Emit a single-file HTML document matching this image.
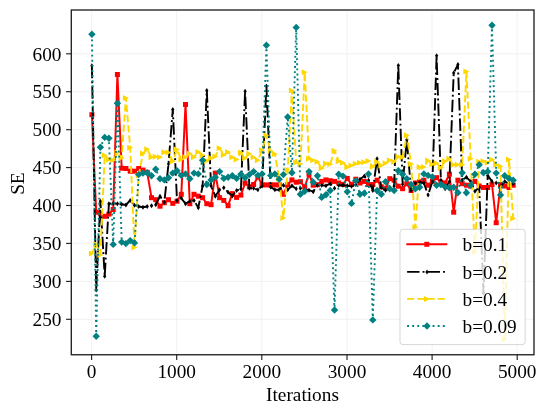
<!DOCTYPE html>
<html><head><meta charset="utf-8"><title>SE vs Iterations</title>
<style>html,body{margin:0;padding:0;background:#fff}svg{display:block}</style>
</head><body>
<svg width="550" height="409" viewBox="0 0 550 409" font-family='"Liberation Serif", "Times New Roman", serif' font-size="19.3" fill="#000">
<rect width="550" height="409" fill="#fff"/>
<g stroke="#f0f0f0" stroke-width="0.9">
<line x1="91.6" y1="10.0" x2="91.6" y2="354.75"/>
<line x1="176.7" y1="10.0" x2="176.7" y2="354.75"/>
<line x1="261.8" y1="10.0" x2="261.8" y2="354.75"/>
<line x1="347.0" y1="10.0" x2="347.0" y2="354.75"/>
<line x1="432.1" y1="10.0" x2="432.1" y2="354.75"/>
<line x1="517.2" y1="10.0" x2="517.2" y2="354.75"/>
<line x1="71.3" y1="319.3" x2="534.0" y2="319.3"/>
<line x1="71.3" y1="281.4" x2="534.0" y2="281.4"/>
<line x1="71.3" y1="243.4" x2="534.0" y2="243.4"/>
<line x1="71.3" y1="205.5" x2="534.0" y2="205.5"/>
<line x1="71.3" y1="167.6" x2="534.0" y2="167.6"/>
<line x1="71.3" y1="129.7" x2="534.0" y2="129.7"/>
<line x1="71.3" y1="91.7" x2="534.0" y2="91.7"/>
<line x1="71.3" y1="53.8" x2="534.0" y2="53.8"/>
</g>
<clipPath id="c"><rect x="71.3" y="10.0" width="462.7" height="344.75"/></clipPath>
<g clip-path="url(#c)">
<polyline points="91.9,114.7 96.2,212.2 100.4,213.3 104.7,216.3 108.9,214.1 113.2,209.5 117.4,74.5 121.7,168.2 125.9,168.5 130.2,171.2 134.5,171.2 138.7,168.5 143.0,170.1 147.2,172.3 151.5,197.7 155.7,199.7 160.0,206.2 164.3,202.7 168.5,199.7 172.8,203.4 177.0,201.2 181.3,194.3 185.5,104.5 189.8,203.7 194.0,194.3 198.3,196.2 202.6,197.7 206.8,203.7 211.1,204.7 215.3,173.1 219.6,197.7 223.8,200.4 228.1,205.7 232.3,193.6 236.6,197.4 240.9,195.1 245.1,183.0 249.4,186.8 253.6,184.5 257.9,176.9 262.1,184.9 266.4,184.9 270.7,184.9 274.9,184.9 279.2,184.9 283.4,194.3 287.7,184.5 291.9,179.9 296.2,182.2 300.4,181.7 304.7,186.8 309.0,174.2 313.2,185.2 317.5,184.7 321.7,181.4 326.0,179.9 330.2,180.7 334.5,181.4 338.7,183.0 343.0,184.5 347.3,178.4 351.5,184.5 355.8,179.2 360.0,183.0 364.3,181.4 368.5,184.5 372.8,184.5 377.1,180.2 381.3,186.8 385.6,188.3 389.8,178.7 394.1,180.2 398.3,186.2 402.6,188.7 406.8,183.7 411.1,190.5 415.4,183.0 419.6,181.7 423.9,180.2 428.1,185.2 432.4,181.4 436.6,177.7 440.9,182.2 445.1,183.0 449.4,174.2 453.7,212.2 457.9,180.2 462.2,183.7 466.4,185.2 470.7,186.2 474.9,181.4 479.2,186.0 483.5,187.5 487.7,187.5 492.0,184.5 496.2,222.7 500.5,184.5 504.7,186.0 509.0,187.5 513.2,185.2" fill="none" stroke="#ff0000" stroke-width="2.0" stroke-linejoin="round"/>
<rect x="89.4" y="112.2" width="5.0" height="5.0" fill="#ff0000"/>
<rect x="93.7" y="209.7" width="5.0" height="5.0" fill="#ff0000"/>
<rect x="97.9" y="210.8" width="5.0" height="5.0" fill="#ff0000"/>
<rect x="102.2" y="213.8" width="5.0" height="5.0" fill="#ff0000"/>
<rect x="106.4" y="211.6" width="5.0" height="5.0" fill="#ff0000"/>
<rect x="110.7" y="207.0" width="5.0" height="5.0" fill="#ff0000"/>
<rect x="114.9" y="72.0" width="5.0" height="5.0" fill="#ff0000"/>
<rect x="119.2" y="165.7" width="5.0" height="5.0" fill="#ff0000"/>
<rect x="123.4" y="166.0" width="5.0" height="5.0" fill="#ff0000"/>
<rect x="127.7" y="168.7" width="5.0" height="5.0" fill="#ff0000"/>
<rect x="132.0" y="168.7" width="5.0" height="5.0" fill="#ff0000"/>
<rect x="136.2" y="166.0" width="5.0" height="5.0" fill="#ff0000"/>
<rect x="140.5" y="167.6" width="5.0" height="5.0" fill="#ff0000"/>
<rect x="144.7" y="169.8" width="5.0" height="5.0" fill="#ff0000"/>
<rect x="149.0" y="195.2" width="5.0" height="5.0" fill="#ff0000"/>
<rect x="153.2" y="197.2" width="5.0" height="5.0" fill="#ff0000"/>
<rect x="157.5" y="203.7" width="5.0" height="5.0" fill="#ff0000"/>
<rect x="161.8" y="200.2" width="5.0" height="5.0" fill="#ff0000"/>
<rect x="166.0" y="197.2" width="5.0" height="5.0" fill="#ff0000"/>
<rect x="170.3" y="200.9" width="5.0" height="5.0" fill="#ff0000"/>
<rect x="174.5" y="198.7" width="5.0" height="5.0" fill="#ff0000"/>
<rect x="178.8" y="191.8" width="5.0" height="5.0" fill="#ff0000"/>
<rect x="183.0" y="102.0" width="5.0" height="5.0" fill="#ff0000"/>
<rect x="187.3" y="201.2" width="5.0" height="5.0" fill="#ff0000"/>
<rect x="191.5" y="191.8" width="5.0" height="5.0" fill="#ff0000"/>
<rect x="195.8" y="193.7" width="5.0" height="5.0" fill="#ff0000"/>
<rect x="200.1" y="195.2" width="5.0" height="5.0" fill="#ff0000"/>
<rect x="204.3" y="201.2" width="5.0" height="5.0" fill="#ff0000"/>
<rect x="208.6" y="202.2" width="5.0" height="5.0" fill="#ff0000"/>
<rect x="212.8" y="170.6" width="5.0" height="5.0" fill="#ff0000"/>
<rect x="217.1" y="195.2" width="5.0" height="5.0" fill="#ff0000"/>
<rect x="221.3" y="197.9" width="5.0" height="5.0" fill="#ff0000"/>
<rect x="225.6" y="203.2" width="5.0" height="5.0" fill="#ff0000"/>
<rect x="229.8" y="191.1" width="5.0" height="5.0" fill="#ff0000"/>
<rect x="234.1" y="194.9" width="5.0" height="5.0" fill="#ff0000"/>
<rect x="238.4" y="192.6" width="5.0" height="5.0" fill="#ff0000"/>
<rect x="242.6" y="180.5" width="5.0" height="5.0" fill="#ff0000"/>
<rect x="246.9" y="184.3" width="5.0" height="5.0" fill="#ff0000"/>
<rect x="251.1" y="182.0" width="5.0" height="5.0" fill="#ff0000"/>
<rect x="255.4" y="174.4" width="5.0" height="5.0" fill="#ff0000"/>
<rect x="259.6" y="182.4" width="5.0" height="5.0" fill="#ff0000"/>
<rect x="263.9" y="182.4" width="5.0" height="5.0" fill="#ff0000"/>
<rect x="268.2" y="182.4" width="5.0" height="5.0" fill="#ff0000"/>
<rect x="272.4" y="182.4" width="5.0" height="5.0" fill="#ff0000"/>
<rect x="276.7" y="182.4" width="5.0" height="5.0" fill="#ff0000"/>
<rect x="280.9" y="191.8" width="5.0" height="5.0" fill="#ff0000"/>
<rect x="285.2" y="182.0" width="5.0" height="5.0" fill="#ff0000"/>
<rect x="289.4" y="177.4" width="5.0" height="5.0" fill="#ff0000"/>
<rect x="293.7" y="179.7" width="5.0" height="5.0" fill="#ff0000"/>
<rect x="297.9" y="179.2" width="5.0" height="5.0" fill="#ff0000"/>
<rect x="302.2" y="184.3" width="5.0" height="5.0" fill="#ff0000"/>
<rect x="306.5" y="171.7" width="5.0" height="5.0" fill="#ff0000"/>
<rect x="310.7" y="182.7" width="5.0" height="5.0" fill="#ff0000"/>
<rect x="315.0" y="182.2" width="5.0" height="5.0" fill="#ff0000"/>
<rect x="319.2" y="178.9" width="5.0" height="5.0" fill="#ff0000"/>
<rect x="323.5" y="177.4" width="5.0" height="5.0" fill="#ff0000"/>
<rect x="327.7" y="178.2" width="5.0" height="5.0" fill="#ff0000"/>
<rect x="332.0" y="178.9" width="5.0" height="5.0" fill="#ff0000"/>
<rect x="336.2" y="180.5" width="5.0" height="5.0" fill="#ff0000"/>
<rect x="340.5" y="182.0" width="5.0" height="5.0" fill="#ff0000"/>
<rect x="344.8" y="175.9" width="5.0" height="5.0" fill="#ff0000"/>
<rect x="349.0" y="182.0" width="5.0" height="5.0" fill="#ff0000"/>
<rect x="353.3" y="176.7" width="5.0" height="5.0" fill="#ff0000"/>
<rect x="357.5" y="180.5" width="5.0" height="5.0" fill="#ff0000"/>
<rect x="361.8" y="178.9" width="5.0" height="5.0" fill="#ff0000"/>
<rect x="366.0" y="182.0" width="5.0" height="5.0" fill="#ff0000"/>
<rect x="370.3" y="182.0" width="5.0" height="5.0" fill="#ff0000"/>
<rect x="374.6" y="177.7" width="5.0" height="5.0" fill="#ff0000"/>
<rect x="378.8" y="184.3" width="5.0" height="5.0" fill="#ff0000"/>
<rect x="383.1" y="185.8" width="5.0" height="5.0" fill="#ff0000"/>
<rect x="387.3" y="176.2" width="5.0" height="5.0" fill="#ff0000"/>
<rect x="391.6" y="177.7" width="5.0" height="5.0" fill="#ff0000"/>
<rect x="395.8" y="183.7" width="5.0" height="5.0" fill="#ff0000"/>
<rect x="400.1" y="186.2" width="5.0" height="5.0" fill="#ff0000"/>
<rect x="404.3" y="181.2" width="5.0" height="5.0" fill="#ff0000"/>
<rect x="408.6" y="188.0" width="5.0" height="5.0" fill="#ff0000"/>
<rect x="412.9" y="180.5" width="5.0" height="5.0" fill="#ff0000"/>
<rect x="417.1" y="179.2" width="5.0" height="5.0" fill="#ff0000"/>
<rect x="421.4" y="177.7" width="5.0" height="5.0" fill="#ff0000"/>
<rect x="425.6" y="182.7" width="5.0" height="5.0" fill="#ff0000"/>
<rect x="429.9" y="178.9" width="5.0" height="5.0" fill="#ff0000"/>
<rect x="434.1" y="175.2" width="5.0" height="5.0" fill="#ff0000"/>
<rect x="438.4" y="179.7" width="5.0" height="5.0" fill="#ff0000"/>
<rect x="442.6" y="180.5" width="5.0" height="5.0" fill="#ff0000"/>
<rect x="446.9" y="171.7" width="5.0" height="5.0" fill="#ff0000"/>
<rect x="451.2" y="209.7" width="5.0" height="5.0" fill="#ff0000"/>
<rect x="455.4" y="177.7" width="5.0" height="5.0" fill="#ff0000"/>
<rect x="459.7" y="181.2" width="5.0" height="5.0" fill="#ff0000"/>
<rect x="463.9" y="182.7" width="5.0" height="5.0" fill="#ff0000"/>
<rect x="468.2" y="183.7" width="5.0" height="5.0" fill="#ff0000"/>
<rect x="472.4" y="178.9" width="5.0" height="5.0" fill="#ff0000"/>
<rect x="476.7" y="183.5" width="5.0" height="5.0" fill="#ff0000"/>
<rect x="481.0" y="185.0" width="5.0" height="5.0" fill="#ff0000"/>
<rect x="485.2" y="185.0" width="5.0" height="5.0" fill="#ff0000"/>
<rect x="489.5" y="182.0" width="5.0" height="5.0" fill="#ff0000"/>
<rect x="493.7" y="220.2" width="5.0" height="5.0" fill="#ff0000"/>
<rect x="498.0" y="182.0" width="5.0" height="5.0" fill="#ff0000"/>
<rect x="502.2" y="183.5" width="5.0" height="5.0" fill="#ff0000"/>
<rect x="506.5" y="185.0" width="5.0" height="5.0" fill="#ff0000"/>
<rect x="510.7" y="182.7" width="5.0" height="5.0" fill="#ff0000"/>
<polyline points="91.9,65.8 96.2,289.9 100.4,201.2 104.7,276.3 108.9,203.7 113.2,203.4 117.4,203.8 121.7,204.2 125.9,205.0 130.2,200.4 134.5,205.3 138.7,206.5 143.0,207.2 147.2,206.5 151.5,205.7 155.7,204.7 160.0,196.2 164.3,202.2 168.5,164.0 172.8,109.4 177.0,200.4 181.3,198.1 185.5,203.7 189.8,201.2 194.0,200.4 198.3,207.7 202.6,186.0 206.8,90.4 211.1,186.0 215.3,196.2 219.6,189.8 223.8,187.7 228.1,192.2 232.3,195.9 236.6,190.5 240.9,189.0 245.1,91.2 249.4,188.3 253.6,188.3 257.9,189.8 262.1,186.0 266.4,85.9 270.7,187.1 274.9,189.8 279.2,189.8 283.4,185.2 287.7,189.8 291.9,185.7 296.2,188.7 300.4,188.3 304.7,189.8 309.0,190.2 313.2,191.7 317.5,185.2 321.7,185.2 326.0,185.7 330.2,183.7 334.5,188.3 338.7,185.2 343.0,185.2 347.3,185.7 351.5,186.2 355.8,184.5 360.0,179.2 364.3,176.1 368.5,180.2 372.8,190.5 377.1,158.7 381.3,187.5 385.6,190.2 389.8,187.5 394.1,186.2 398.3,65.4 402.6,184.2 406.8,139.7 411.1,190.5 415.4,183.2 419.6,182.2 423.9,183.0 428.1,195.1 432.4,181.4 436.6,55.8 440.9,180.2 445.1,188.7 449.4,181.4 453.7,73.0 457.9,64.6 462.2,179.9 466.4,177.3 470.7,181.4 474.9,191.3 479.2,187.5 483.5,293.0 487.7,175.4 492.0,181.4 496.2,183.0 500.5,186.8 504.7,181.4 509.0,183.7 513.2,183.7" fill="none" stroke="#000000" stroke-width="1.9" stroke-linejoin="round" stroke-dasharray="12.4 3.1 1.9 3.1"/>
<path d="M91.9 63.3L93.5 65.8L91.9 68.3L90.3 65.8Z" fill="#000000"/>
<path d="M96.2 287.4L97.8 289.9L96.2 292.4L94.5 289.9Z" fill="#000000"/>
<path d="M100.4 198.7L102.0 201.2L100.4 203.7L98.8 201.2Z" fill="#000000"/>
<path d="M104.7 273.8L106.3 276.3L104.7 278.8L103.0 276.3Z" fill="#000000"/>
<path d="M108.9 201.2L110.5 203.7L108.9 206.2L107.3 203.7Z" fill="#000000"/>
<path d="M113.2 200.9L114.8 203.4L113.2 205.9L111.6 203.4Z" fill="#000000"/>
<path d="M117.4 201.3L119.1 203.8L117.4 206.3L115.8 203.8Z" fill="#000000"/>
<path d="M121.7 201.7L123.3 204.2L121.7 206.7L120.1 204.2Z" fill="#000000"/>
<path d="M125.9 202.5L127.6 205.0L125.9 207.5L124.3 205.0Z" fill="#000000"/>
<path d="M130.2 197.9L131.8 200.4L130.2 202.9L128.6 200.4Z" fill="#000000"/>
<path d="M134.5 202.8L136.1 205.3L134.5 207.8L132.8 205.3Z" fill="#000000"/>
<path d="M138.7 204.0L140.3 206.5L138.7 209.0L137.1 206.5Z" fill="#000000"/>
<path d="M143.0 204.7L144.6 207.2L143.0 209.7L141.3 207.2Z" fill="#000000"/>
<path d="M147.2 204.0L148.9 206.5L147.2 209.0L145.6 206.5Z" fill="#000000"/>
<path d="M151.5 203.2L153.1 205.7L151.5 208.2L149.9 205.7Z" fill="#000000"/>
<path d="M155.7 202.2L157.4 204.7L155.7 207.2L154.1 204.7Z" fill="#000000"/>
<path d="M160.0 193.7L161.6 196.2L160.0 198.7L158.4 196.2Z" fill="#000000"/>
<path d="M164.3 199.7L165.9 202.2L164.3 204.7L162.6 202.2Z" fill="#000000"/>
<path d="M168.5 161.5L170.1 164.0L168.5 166.5L166.9 164.0Z" fill="#000000"/>
<path d="M172.8 106.9L174.4 109.4L172.8 111.9L171.1 109.4Z" fill="#000000"/>
<path d="M177.0 197.9L178.6 200.4L177.0 202.9L175.4 200.4Z" fill="#000000"/>
<path d="M181.3 195.6L182.9 198.1L181.3 200.6L179.7 198.1Z" fill="#000000"/>
<path d="M185.5 201.2L187.2 203.7L185.5 206.2L183.9 203.7Z" fill="#000000"/>
<path d="M189.8 198.7L191.4 201.2L189.8 203.7L188.2 201.2Z" fill="#000000"/>
<path d="M194.0 197.9L195.7 200.4L194.0 202.9L192.4 200.4Z" fill="#000000"/>
<path d="M198.3 205.2L199.9 207.7L198.3 210.2L196.7 207.7Z" fill="#000000"/>
<path d="M202.6 183.5L204.2 186.0L202.6 188.5L200.9 186.0Z" fill="#000000"/>
<path d="M206.8 87.9L208.4 90.4L206.8 92.9L205.2 90.4Z" fill="#000000"/>
<path d="M211.1 183.5L212.7 186.0L211.1 188.5L209.4 186.0Z" fill="#000000"/>
<path d="M215.3 193.7L216.9 196.2L215.3 198.7L213.7 196.2Z" fill="#000000"/>
<path d="M219.6 187.3L221.2 189.8L219.6 192.3L218.0 189.8Z" fill="#000000"/>
<path d="M223.8 185.2L225.5 187.7L223.8 190.2L222.2 187.7Z" fill="#000000"/>
<path d="M228.1 189.7L229.7 192.2L228.1 194.7L226.5 192.2Z" fill="#000000"/>
<path d="M232.3 193.4L234.0 195.9L232.3 198.4L230.7 195.9Z" fill="#000000"/>
<path d="M236.6 188.0L238.2 190.5L236.6 193.0L235.0 190.5Z" fill="#000000"/>
<path d="M240.9 186.5L242.5 189.0L240.9 191.5L239.2 189.0Z" fill="#000000"/>
<path d="M245.1 88.7L246.7 91.2L245.1 93.7L243.5 91.2Z" fill="#000000"/>
<path d="M249.4 185.8L251.0 188.3L249.4 190.8L247.7 188.3Z" fill="#000000"/>
<path d="M253.6 185.8L255.3 188.3L253.6 190.8L252.0 188.3Z" fill="#000000"/>
<path d="M257.9 187.3L259.5 189.8L257.9 192.3L256.3 189.8Z" fill="#000000"/>
<path d="M262.1 183.5L263.8 186.0L262.1 188.5L260.5 186.0Z" fill="#000000"/>
<path d="M266.4 83.4L268.0 85.9L266.4 88.4L264.8 85.9Z" fill="#000000"/>
<path d="M270.7 184.6L272.3 187.1L270.7 189.6L269.0 187.1Z" fill="#000000"/>
<path d="M274.9 187.3L276.5 189.8L274.9 192.3L273.3 189.8Z" fill="#000000"/>
<path d="M279.2 187.3L280.8 189.8L279.2 192.3L277.5 189.8Z" fill="#000000"/>
<path d="M283.4 182.7L285.0 185.2L283.4 187.7L281.8 185.2Z" fill="#000000"/>
<path d="M287.7 187.3L289.3 189.8L287.7 192.3L286.1 189.8Z" fill="#000000"/>
<path d="M291.9 183.2L293.6 185.7L291.9 188.2L290.3 185.7Z" fill="#000000"/>
<path d="M296.2 186.2L297.8 188.7L296.2 191.2L294.6 188.7Z" fill="#000000"/>
<path d="M300.4 185.8L302.1 188.3L300.4 190.8L298.8 188.3Z" fill="#000000"/>
<path d="M304.7 187.3L306.3 189.8L304.7 192.3L303.1 189.8Z" fill="#000000"/>
<path d="M309.0 187.7L310.6 190.2L309.0 192.7L307.3 190.2Z" fill="#000000"/>
<path d="M313.2 189.2L314.8 191.7L313.2 194.2L311.6 191.7Z" fill="#000000"/>
<path d="M317.5 182.7L319.1 185.2L317.5 187.7L315.8 185.2Z" fill="#000000"/>
<path d="M321.7 182.7L323.3 185.2L321.7 187.7L320.1 185.2Z" fill="#000000"/>
<path d="M326.0 183.2L327.6 185.7L326.0 188.2L324.4 185.7Z" fill="#000000"/>
<path d="M330.2 181.2L331.9 183.7L330.2 186.2L328.6 183.7Z" fill="#000000"/>
<path d="M334.5 185.8L336.1 188.3L334.5 190.8L332.9 188.3Z" fill="#000000"/>
<path d="M338.7 182.7L340.4 185.2L338.7 187.7L337.1 185.2Z" fill="#000000"/>
<path d="M343.0 182.7L344.6 185.2L343.0 187.7L341.4 185.2Z" fill="#000000"/>
<path d="M347.3 183.2L348.9 185.7L347.3 188.2L345.6 185.7Z" fill="#000000"/>
<path d="M351.5 183.7L353.1 186.2L351.5 188.7L349.9 186.2Z" fill="#000000"/>
<path d="M355.8 182.0L357.4 184.5L355.8 187.0L354.1 184.5Z" fill="#000000"/>
<path d="M360.0 176.7L361.7 179.2L360.0 181.7L358.4 179.2Z" fill="#000000"/>
<path d="M364.3 173.6L365.9 176.1L364.3 178.6L362.7 176.1Z" fill="#000000"/>
<path d="M368.5 177.7L370.2 180.2L368.5 182.7L366.9 180.2Z" fill="#000000"/>
<path d="M372.8 188.0L374.4 190.5L372.8 193.0L371.2 190.5Z" fill="#000000"/>
<path d="M377.1 156.2L378.7 158.7L377.1 161.2L375.4 158.7Z" fill="#000000"/>
<path d="M381.3 185.0L382.9 187.5L381.3 190.0L379.7 187.5Z" fill="#000000"/>
<path d="M385.6 187.7L387.2 190.2L385.6 192.7L383.9 190.2Z" fill="#000000"/>
<path d="M389.8 185.0L391.4 187.5L389.8 190.0L388.2 187.5Z" fill="#000000"/>
<path d="M394.1 183.7L395.7 186.2L394.1 188.7L392.5 186.2Z" fill="#000000"/>
<path d="M398.3 62.9L400.0 65.4L398.3 67.9L396.7 65.4Z" fill="#000000"/>
<path d="M402.6 181.7L404.2 184.2L402.6 186.7L401.0 184.2Z" fill="#000000"/>
<path d="M406.8 137.2L408.5 139.7L406.8 142.2L405.2 139.7Z" fill="#000000"/>
<path d="M411.1 188.0L412.7 190.5L411.1 193.0L409.5 190.5Z" fill="#000000"/>
<path d="M415.4 180.7L417.0 183.2L415.4 185.7L413.7 183.2Z" fill="#000000"/>
<path d="M419.6 179.7L421.2 182.2L419.6 184.7L418.0 182.2Z" fill="#000000"/>
<path d="M423.9 180.5L425.5 183.0L423.9 185.5L422.2 183.0Z" fill="#000000"/>
<path d="M428.1 192.6L429.7 195.1L428.1 197.6L426.5 195.1Z" fill="#000000"/>
<path d="M432.4 178.9L434.0 181.4L432.4 183.9L430.8 181.4Z" fill="#000000"/>
<path d="M436.6 53.3L438.3 55.8L436.6 58.3L435.0 55.8Z" fill="#000000"/>
<path d="M440.9 177.7L442.5 180.2L440.9 182.7L439.3 180.2Z" fill="#000000"/>
<path d="M445.1 186.2L446.8 188.7L445.1 191.2L443.5 188.7Z" fill="#000000"/>
<path d="M449.4 178.9L451.0 181.4L449.4 183.9L447.8 181.4Z" fill="#000000"/>
<path d="M453.7 70.5L455.3 73.0L453.7 75.5L452.0 73.0Z" fill="#000000"/>
<path d="M457.9 62.1L459.5 64.6L457.9 67.1L456.3 64.6Z" fill="#000000"/>
<path d="M462.2 177.4L463.8 179.9L462.2 182.4L460.5 179.9Z" fill="#000000"/>
<path d="M466.4 174.8L468.1 177.3L466.4 179.8L464.8 177.3Z" fill="#000000"/>
<path d="M470.7 178.9L472.3 181.4L470.7 183.9L469.1 181.4Z" fill="#000000"/>
<path d="M474.9 188.8L476.6 191.3L474.9 193.8L473.3 191.3Z" fill="#000000"/>
<path d="M479.2 185.0L480.8 187.5L479.2 190.0L477.6 187.5Z" fill="#000000"/>
<path d="M483.5 290.5L485.1 293.0L483.5 295.5L481.8 293.0Z" fill="#000000"/>
<path d="M487.7 172.9L489.3 175.4L487.7 177.9L486.1 175.4Z" fill="#000000"/>
<path d="M492.0 178.9L493.6 181.4L492.0 183.9L490.3 181.4Z" fill="#000000"/>
<path d="M496.2 180.5L497.8 183.0L496.2 185.5L494.6 183.0Z" fill="#000000"/>
<path d="M500.5 184.3L502.1 186.8L500.5 189.3L498.9 186.8Z" fill="#000000"/>
<path d="M504.7 178.9L506.4 181.4L504.7 183.9L503.1 181.4Z" fill="#000000"/>
<path d="M509.0 181.2L510.6 183.7L509.0 186.2L507.4 183.7Z" fill="#000000"/>
<path d="M513.2 181.2L514.9 183.7L513.2 186.2L511.6 183.7Z" fill="#000000"/>
<polyline points="91.9,253.5 96.2,244.4 100.4,255.0 104.7,155.2 108.9,159.4 113.2,160.2 117.4,152.6 121.7,157.9 125.9,98.0 130.2,147.7 134.5,247.4 138.7,175.4 143.0,153.4 147.2,149.2 151.5,157.2 155.7,156.7 160.0,157.2 164.3,152.2 168.5,152.6 172.8,161.2 177.0,149.6 181.3,159.4 185.5,157.2 189.8,153.7 194.0,157.2 198.3,151.9 202.6,155.2 206.8,161.0 211.1,157.9 215.3,156.4 219.6,148.2 223.8,154.9 228.1,151.9 232.3,157.2 236.6,159.4 240.9,152.6 245.1,158.2 249.4,153.7 253.6,157.2 257.9,160.2 262.1,150.3 266.4,135.2 270.7,151.1 274.9,154.1 279.2,178.4 283.4,217.9 287.7,170.1 291.9,90.4 296.2,162.5 300.4,164.0 304.7,72.2 309.0,158.7 313.2,160.2 317.5,161.7 321.7,168.2 326.0,163.6 330.2,164.2 334.5,150.7 338.7,161.2 343.0,162.7 347.3,167.2 351.5,165.5 355.8,163.7 360.0,162.7 364.3,162.2 368.5,161.0 372.8,166.7 377.1,161.7 381.3,165.5 385.6,163.2 389.8,160.2 394.1,161.7 398.3,156.7 402.6,157.2 406.8,135.2 411.1,164.0 415.4,227.3 419.6,167.0 423.9,167.0 428.1,160.6 432.4,164.2 436.6,163.2 440.9,167.8 445.1,161.2 449.4,158.7 453.7,164.8 457.9,164.8 462.2,164.8 466.4,71.4 470.7,158.7 474.9,252.0 479.2,161.7 483.5,161.2 487.7,162.7 492.0,159.4 496.2,164.8 500.5,166.3 504.7,339.2 509.0,159.4 513.2,218.6" fill="none" stroke="#ffd700" stroke-width="1.9" stroke-linejoin="round" stroke-dasharray="7.1 3.1"/>
<path d="M94.9 253.5L88.9 250.5L88.9 256.5Z" fill="#ffd700"/>
<path d="M99.2 244.4L93.2 241.4L93.2 247.4Z" fill="#ffd700"/>
<path d="M103.4 255.0L97.4 252.0L97.4 258.0Z" fill="#ffd700"/>
<path d="M107.7 155.2L101.7 152.2L101.7 158.2Z" fill="#ffd700"/>
<path d="M111.9 159.4L105.9 156.4L105.9 162.4Z" fill="#ffd700"/>
<path d="M116.2 160.2L110.2 157.2L110.2 163.2Z" fill="#ffd700"/>
<path d="M120.4 152.6L114.4 149.6L114.4 155.6Z" fill="#ffd700"/>
<path d="M124.7 157.9L118.7 154.9L118.7 160.9Z" fill="#ffd700"/>
<path d="M128.9 98.0L122.9 95.0L122.9 101.0Z" fill="#ffd700"/>
<path d="M133.2 147.7L127.2 144.7L127.2 150.7Z" fill="#ffd700"/>
<path d="M137.5 247.4L131.5 244.4L131.5 250.4Z" fill="#ffd700"/>
<path d="M141.7 175.4L135.7 172.4L135.7 178.4Z" fill="#ffd700"/>
<path d="M146.0 153.4L140.0 150.4L140.0 156.4Z" fill="#ffd700"/>
<path d="M150.2 149.2L144.2 146.2L144.2 152.2Z" fill="#ffd700"/>
<path d="M154.5 157.2L148.5 154.2L148.5 160.2Z" fill="#ffd700"/>
<path d="M158.7 156.7L152.7 153.7L152.7 159.7Z" fill="#ffd700"/>
<path d="M163.0 157.2L157.0 154.2L157.0 160.2Z" fill="#ffd700"/>
<path d="M167.3 152.2L161.3 149.2L161.3 155.2Z" fill="#ffd700"/>
<path d="M171.5 152.6L165.5 149.6L165.5 155.6Z" fill="#ffd700"/>
<path d="M175.8 161.2L169.8 158.2L169.8 164.2Z" fill="#ffd700"/>
<path d="M180.0 149.6L174.0 146.6L174.0 152.6Z" fill="#ffd700"/>
<path d="M184.3 159.4L178.3 156.4L178.3 162.4Z" fill="#ffd700"/>
<path d="M188.5 157.2L182.5 154.2L182.5 160.2Z" fill="#ffd700"/>
<path d="M192.8 153.7L186.8 150.7L186.8 156.7Z" fill="#ffd700"/>
<path d="M197.0 157.2L191.0 154.2L191.0 160.2Z" fill="#ffd700"/>
<path d="M201.3 151.9L195.3 148.9L195.3 154.9Z" fill="#ffd700"/>
<path d="M205.6 155.2L199.6 152.2L199.6 158.2Z" fill="#ffd700"/>
<path d="M209.8 161.0L203.8 158.0L203.8 164.0Z" fill="#ffd700"/>
<path d="M214.1 157.9L208.1 154.9L208.1 160.9Z" fill="#ffd700"/>
<path d="M218.3 156.4L212.3 153.4L212.3 159.4Z" fill="#ffd700"/>
<path d="M222.6 148.2L216.6 145.2L216.6 151.2Z" fill="#ffd700"/>
<path d="M226.8 154.9L220.8 151.9L220.8 157.9Z" fill="#ffd700"/>
<path d="M231.1 151.9L225.1 148.9L225.1 154.9Z" fill="#ffd700"/>
<path d="M235.3 157.2L229.3 154.2L229.3 160.2Z" fill="#ffd700"/>
<path d="M239.6 159.4L233.6 156.4L233.6 162.4Z" fill="#ffd700"/>
<path d="M243.9 152.6L237.9 149.6L237.9 155.6Z" fill="#ffd700"/>
<path d="M248.1 158.2L242.1 155.2L242.1 161.2Z" fill="#ffd700"/>
<path d="M252.4 153.7L246.4 150.7L246.4 156.7Z" fill="#ffd700"/>
<path d="M256.6 157.2L250.6 154.2L250.6 160.2Z" fill="#ffd700"/>
<path d="M260.9 160.2L254.9 157.2L254.9 163.2Z" fill="#ffd700"/>
<path d="M265.1 150.3L259.1 147.3L259.1 153.3Z" fill="#ffd700"/>
<path d="M269.4 135.2L263.4 132.2L263.4 138.2Z" fill="#ffd700"/>
<path d="M273.7 151.1L267.7 148.1L267.7 154.1Z" fill="#ffd700"/>
<path d="M277.9 154.1L271.9 151.1L271.9 157.1Z" fill="#ffd700"/>
<path d="M282.2 178.4L276.2 175.4L276.2 181.4Z" fill="#ffd700"/>
<path d="M286.4 217.9L280.4 214.9L280.4 220.9Z" fill="#ffd700"/>
<path d="M290.7 170.1L284.7 167.1L284.7 173.1Z" fill="#ffd700"/>
<path d="M294.9 90.4L288.9 87.4L288.9 93.4Z" fill="#ffd700"/>
<path d="M299.2 162.5L293.2 159.5L293.2 165.5Z" fill="#ffd700"/>
<path d="M303.4 164.0L297.4 161.0L297.4 167.0Z" fill="#ffd700"/>
<path d="M307.7 72.2L301.7 69.2L301.7 75.2Z" fill="#ffd700"/>
<path d="M312.0 158.7L306.0 155.7L306.0 161.7Z" fill="#ffd700"/>
<path d="M316.2 160.2L310.2 157.2L310.2 163.2Z" fill="#ffd700"/>
<path d="M320.5 161.7L314.5 158.7L314.5 164.7Z" fill="#ffd700"/>
<path d="M324.7 168.2L318.7 165.2L318.7 171.2Z" fill="#ffd700"/>
<path d="M329.0 163.6L323.0 160.6L323.0 166.6Z" fill="#ffd700"/>
<path d="M333.2 164.2L327.2 161.2L327.2 167.2Z" fill="#ffd700"/>
<path d="M337.5 150.7L331.5 147.7L331.5 153.7Z" fill="#ffd700"/>
<path d="M341.7 161.2L335.7 158.2L335.7 164.2Z" fill="#ffd700"/>
<path d="M346.0 162.7L340.0 159.7L340.0 165.7Z" fill="#ffd700"/>
<path d="M350.3 167.2L344.3 164.2L344.3 170.2Z" fill="#ffd700"/>
<path d="M354.5 165.5L348.5 162.5L348.5 168.5Z" fill="#ffd700"/>
<path d="M358.8 163.7L352.8 160.7L352.8 166.7Z" fill="#ffd700"/>
<path d="M363.0 162.7L357.0 159.7L357.0 165.7Z" fill="#ffd700"/>
<path d="M367.3 162.2L361.3 159.2L361.3 165.2Z" fill="#ffd700"/>
<path d="M371.5 161.0L365.5 158.0L365.5 164.0Z" fill="#ffd700"/>
<path d="M375.8 166.7L369.8 163.7L369.8 169.7Z" fill="#ffd700"/>
<path d="M380.1 161.7L374.1 158.7L374.1 164.7Z" fill="#ffd700"/>
<path d="M384.3 165.5L378.3 162.5L378.3 168.5Z" fill="#ffd700"/>
<path d="M388.6 163.2L382.6 160.2L382.6 166.2Z" fill="#ffd700"/>
<path d="M392.8 160.2L386.8 157.2L386.8 163.2Z" fill="#ffd700"/>
<path d="M397.1 161.7L391.1 158.7L391.1 164.7Z" fill="#ffd700"/>
<path d="M401.3 156.7L395.3 153.7L395.3 159.7Z" fill="#ffd700"/>
<path d="M405.6 157.2L399.6 154.2L399.6 160.2Z" fill="#ffd700"/>
<path d="M409.8 135.2L403.8 132.2L403.8 138.2Z" fill="#ffd700"/>
<path d="M414.1 164.0L408.1 161.0L408.1 167.0Z" fill="#ffd700"/>
<path d="M418.4 227.3L412.4 224.3L412.4 230.3Z" fill="#ffd700"/>
<path d="M422.6 167.0L416.6 164.0L416.6 170.0Z" fill="#ffd700"/>
<path d="M426.9 167.0L420.9 164.0L420.9 170.0Z" fill="#ffd700"/>
<path d="M431.1 160.6L425.1 157.6L425.1 163.6Z" fill="#ffd700"/>
<path d="M435.4 164.2L429.4 161.2L429.4 167.2Z" fill="#ffd700"/>
<path d="M439.6 163.2L433.6 160.2L433.6 166.2Z" fill="#ffd700"/>
<path d="M443.9 167.8L437.9 164.8L437.9 170.8Z" fill="#ffd700"/>
<path d="M448.1 161.2L442.1 158.2L442.1 164.2Z" fill="#ffd700"/>
<path d="M452.4 158.7L446.4 155.7L446.4 161.7Z" fill="#ffd700"/>
<path d="M456.7 164.8L450.7 161.8L450.7 167.8Z" fill="#ffd700"/>
<path d="M460.9 164.8L454.9 161.8L454.9 167.8Z" fill="#ffd700"/>
<path d="M465.2 164.8L459.2 161.8L459.2 167.8Z" fill="#ffd700"/>
<path d="M469.4 71.4L463.4 68.4L463.4 74.4Z" fill="#ffd700"/>
<path d="M473.7 158.7L467.7 155.7L467.7 161.7Z" fill="#ffd700"/>
<path d="M477.9 252.0L471.9 249.0L471.9 255.0Z" fill="#ffd700"/>
<path d="M482.2 161.7L476.2 158.7L476.2 164.7Z" fill="#ffd700"/>
<path d="M486.5 161.2L480.5 158.2L480.5 164.2Z" fill="#ffd700"/>
<path d="M490.7 162.7L484.7 159.7L484.7 165.7Z" fill="#ffd700"/>
<path d="M495.0 159.4L489.0 156.4L489.0 162.4Z" fill="#ffd700"/>
<path d="M499.2 164.8L493.2 161.8L493.2 167.8Z" fill="#ffd700"/>
<path d="M503.5 166.3L497.5 163.3L497.5 169.3Z" fill="#ffd700"/>
<path d="M507.7 339.2L501.7 336.2L501.7 342.2Z" fill="#ffd700"/>
<path d="M512.0 159.4L506.0 156.4L506.0 162.4Z" fill="#ffd700"/>
<path d="M516.2 218.6L510.2 215.6L510.2 221.6Z" fill="#ffd700"/>
<polyline points="91.9,34.3 96.2,336.2 100.4,147.3 104.7,137.4 108.9,138.2 113.2,244.4 117.4,103.3 121.7,242.1 125.9,243.6 130.2,240.6 134.5,242.9 138.7,174.6 143.0,173.1 147.2,172.7 151.5,175.7 155.7,169.3 160.0,178.7 164.3,179.9 168.5,177.7 172.8,173.1 177.0,170.8 181.3,175.4 185.5,173.9 189.8,178.7 194.0,173.1 198.3,173.9 202.6,160.2 206.8,184.5 211.1,179.9 215.3,177.2 219.6,171.6 223.8,178.4 228.1,177.2 232.3,175.7 236.6,178.4 240.9,174.2 245.1,177.7 249.4,174.6 253.6,171.6 257.9,175.4 262.1,173.9 266.4,45.2 270.7,175.4 274.9,173.9 279.2,179.2 283.4,174.6 287.7,117.0 291.9,172.7 296.2,27.4 300.4,194.3 304.7,191.3 309.0,171.6 313.2,182.2 317.5,175.7 321.7,197.4 326.0,194.7 330.2,190.5 334.5,310.0 338.7,174.2 343.0,176.1 347.3,191.7 351.5,203.4 355.8,180.7 360.0,194.3 364.3,193.2 368.5,173.9 372.8,319.9 377.1,190.5 381.3,194.3 385.6,181.7 389.8,188.7 394.1,190.5 398.3,170.8 402.6,174.2 406.8,178.7 411.1,184.5 415.4,188.7 419.6,187.2 423.9,173.9 428.1,175.4 432.4,176.9 436.6,185.2 440.9,184.5 445.1,186.8 449.4,187.7 453.7,187.2 457.9,192.8 462.2,172.7 466.4,192.8 470.7,185.2 474.9,174.2 479.2,164.8 483.5,172.7 487.7,171.6 492.0,25.2 496.2,173.1 500.5,195.1 504.7,175.7 509.0,178.4 513.2,180.2" fill="none" stroke="#008080" stroke-width="1.9" stroke-linejoin="round" stroke-dasharray="1.9 3.2"/>
<path d="M91.9 30.6L95.6 34.3L91.9 38.0L88.2 34.3Z" fill="#008080"/>
<path d="M96.2 332.5L99.9 336.2L96.2 339.9L92.5 336.2Z" fill="#008080"/>
<path d="M100.4 143.6L104.1 147.3L100.4 151.0L96.7 147.3Z" fill="#008080"/>
<path d="M104.7 133.7L108.4 137.4L104.7 141.1L101.0 137.4Z" fill="#008080"/>
<path d="M108.9 134.5L112.6 138.2L108.9 141.9L105.2 138.2Z" fill="#008080"/>
<path d="M113.2 240.7L116.9 244.4L113.2 248.1L109.5 244.4Z" fill="#008080"/>
<path d="M117.4 99.6L121.1 103.3L117.4 107.0L113.7 103.3Z" fill="#008080"/>
<path d="M121.7 238.4L125.4 242.1L121.7 245.8L118.0 242.1Z" fill="#008080"/>
<path d="M125.9 239.9L129.6 243.6L125.9 247.3L122.2 243.6Z" fill="#008080"/>
<path d="M130.2 236.9L133.9 240.6L130.2 244.3L126.5 240.6Z" fill="#008080"/>
<path d="M134.5 239.2L138.2 242.9L134.5 246.6L130.8 242.9Z" fill="#008080"/>
<path d="M138.7 170.9L142.4 174.6L138.7 178.3L135.0 174.6Z" fill="#008080"/>
<path d="M143.0 169.4L146.7 173.1L143.0 176.8L139.3 173.1Z" fill="#008080"/>
<path d="M147.2 169.0L150.9 172.7L147.2 176.4L143.5 172.7Z" fill="#008080"/>
<path d="M151.5 172.0L155.2 175.7L151.5 179.4L147.8 175.7Z" fill="#008080"/>
<path d="M155.7 165.6L159.4 169.3L155.7 173.0L152.0 169.3Z" fill="#008080"/>
<path d="M160.0 175.0L163.7 178.7L160.0 182.4L156.3 178.7Z" fill="#008080"/>
<path d="M164.3 176.2L168.0 179.9L164.3 183.6L160.6 179.9Z" fill="#008080"/>
<path d="M168.5 174.0L172.2 177.7L168.5 181.4L164.8 177.7Z" fill="#008080"/>
<path d="M172.8 169.4L176.5 173.1L172.8 176.8L169.1 173.1Z" fill="#008080"/>
<path d="M177.0 167.1L180.7 170.8L177.0 174.5L173.3 170.8Z" fill="#008080"/>
<path d="M181.3 171.7L185.0 175.4L181.3 179.1L177.6 175.4Z" fill="#008080"/>
<path d="M185.5 170.2L189.2 173.9L185.5 177.6L181.8 173.9Z" fill="#008080"/>
<path d="M189.8 175.0L193.5 178.7L189.8 182.4L186.1 178.7Z" fill="#008080"/>
<path d="M194.0 169.4L197.7 173.1L194.0 176.8L190.3 173.1Z" fill="#008080"/>
<path d="M198.3 170.2L202.0 173.9L198.3 177.6L194.6 173.9Z" fill="#008080"/>
<path d="M202.6 156.5L206.3 160.2L202.6 163.9L198.9 160.2Z" fill="#008080"/>
<path d="M206.8 180.8L210.5 184.5L206.8 188.2L203.1 184.5Z" fill="#008080"/>
<path d="M211.1 176.2L214.8 179.9L211.1 183.6L207.4 179.9Z" fill="#008080"/>
<path d="M215.3 173.5L219.0 177.2L215.3 180.9L211.6 177.2Z" fill="#008080"/>
<path d="M219.6 167.9L223.3 171.6L219.6 175.3L215.9 171.6Z" fill="#008080"/>
<path d="M223.8 174.7L227.5 178.4L223.8 182.1L220.1 178.4Z" fill="#008080"/>
<path d="M228.1 173.5L231.8 177.2L228.1 180.9L224.4 177.2Z" fill="#008080"/>
<path d="M232.3 172.0L236.0 175.7L232.3 179.4L228.6 175.7Z" fill="#008080"/>
<path d="M236.6 174.7L240.3 178.4L236.6 182.1L232.9 178.4Z" fill="#008080"/>
<path d="M240.9 170.5L244.6 174.2L240.9 177.9L237.2 174.2Z" fill="#008080"/>
<path d="M245.1 174.0L248.8 177.7L245.1 181.4L241.4 177.7Z" fill="#008080"/>
<path d="M249.4 170.9L253.1 174.6L249.4 178.3L245.7 174.6Z" fill="#008080"/>
<path d="M253.6 167.9L257.3 171.6L253.6 175.3L249.9 171.6Z" fill="#008080"/>
<path d="M257.9 171.7L261.6 175.4L257.9 179.1L254.2 175.4Z" fill="#008080"/>
<path d="M262.1 170.2L265.8 173.9L262.1 177.6L258.4 173.9Z" fill="#008080"/>
<path d="M266.4 41.5L270.1 45.2L266.4 48.9L262.7 45.2Z" fill="#008080"/>
<path d="M270.7 171.7L274.4 175.4L270.7 179.1L267.0 175.4Z" fill="#008080"/>
<path d="M274.9 170.2L278.6 173.9L274.9 177.6L271.2 173.9Z" fill="#008080"/>
<path d="M279.2 175.5L282.9 179.2L279.2 182.9L275.5 179.2Z" fill="#008080"/>
<path d="M283.4 170.9L287.1 174.6L283.4 178.3L279.7 174.6Z" fill="#008080"/>
<path d="M287.7 113.3L291.4 117.0L287.7 120.7L284.0 117.0Z" fill="#008080"/>
<path d="M291.9 169.0L295.6 172.7L291.9 176.4L288.2 172.7Z" fill="#008080"/>
<path d="M296.2 23.7L299.9 27.4L296.2 31.1L292.5 27.4Z" fill="#008080"/>
<path d="M300.4 190.6L304.1 194.3L300.4 198.0L296.7 194.3Z" fill="#008080"/>
<path d="M304.7 187.6L308.4 191.3L304.7 195.0L301.0 191.3Z" fill="#008080"/>
<path d="M309.0 167.9L312.7 171.6L309.0 175.3L305.3 171.6Z" fill="#008080"/>
<path d="M313.2 178.5L316.9 182.2L313.2 185.9L309.5 182.2Z" fill="#008080"/>
<path d="M317.5 172.0L321.2 175.7L317.5 179.4L313.8 175.7Z" fill="#008080"/>
<path d="M321.7 193.7L325.4 197.4L321.7 201.1L318.0 197.4Z" fill="#008080"/>
<path d="M326.0 191.0L329.7 194.7L326.0 198.4L322.3 194.7Z" fill="#008080"/>
<path d="M330.2 186.8L333.9 190.5L330.2 194.2L326.5 190.5Z" fill="#008080"/>
<path d="M334.5 306.3L338.2 310.0L334.5 313.7L330.8 310.0Z" fill="#008080"/>
<path d="M338.7 170.5L342.4 174.2L338.7 177.9L335.0 174.2Z" fill="#008080"/>
<path d="M343.0 172.4L346.7 176.1L343.0 179.8L339.3 176.1Z" fill="#008080"/>
<path d="M347.3 188.0L351.0 191.7L347.3 195.4L343.6 191.7Z" fill="#008080"/>
<path d="M351.5 199.7L355.2 203.4L351.5 207.1L347.8 203.4Z" fill="#008080"/>
<path d="M355.8 177.0L359.5 180.7L355.8 184.4L352.1 180.7Z" fill="#008080"/>
<path d="M360.0 190.6L363.7 194.3L360.0 198.0L356.3 194.3Z" fill="#008080"/>
<path d="M364.3 189.5L368.0 193.2L364.3 196.9L360.6 193.2Z" fill="#008080"/>
<path d="M368.5 170.2L372.2 173.9L368.5 177.6L364.8 173.9Z" fill="#008080"/>
<path d="M372.8 316.2L376.5 319.9L372.8 323.6L369.1 319.9Z" fill="#008080"/>
<path d="M377.1 186.8L380.8 190.5L377.1 194.2L373.4 190.5Z" fill="#008080"/>
<path d="M381.3 190.6L385.0 194.3L381.3 198.0L377.6 194.3Z" fill="#008080"/>
<path d="M385.6 178.0L389.3 181.7L385.6 185.4L381.9 181.7Z" fill="#008080"/>
<path d="M389.8 185.0L393.5 188.7L389.8 192.4L386.1 188.7Z" fill="#008080"/>
<path d="M394.1 186.8L397.8 190.5L394.1 194.2L390.4 190.5Z" fill="#008080"/>
<path d="M398.3 167.1L402.0 170.8L398.3 174.5L394.6 170.8Z" fill="#008080"/>
<path d="M402.6 170.5L406.3 174.2L402.6 177.9L398.9 174.2Z" fill="#008080"/>
<path d="M406.8 175.0L410.5 178.7L406.8 182.4L403.1 178.7Z" fill="#008080"/>
<path d="M411.1 180.8L414.8 184.5L411.1 188.2L407.4 184.5Z" fill="#008080"/>
<path d="M415.4 185.0L419.1 188.7L415.4 192.4L411.7 188.7Z" fill="#008080"/>
<path d="M419.6 183.5L423.3 187.2L419.6 190.9L415.9 187.2Z" fill="#008080"/>
<path d="M423.9 170.2L427.6 173.9L423.9 177.6L420.2 173.9Z" fill="#008080"/>
<path d="M428.1 171.7L431.8 175.4L428.1 179.1L424.4 175.4Z" fill="#008080"/>
<path d="M432.4 173.2L436.1 176.9L432.4 180.6L428.7 176.9Z" fill="#008080"/>
<path d="M436.6 181.5L440.3 185.2L436.6 188.9L432.9 185.2Z" fill="#008080"/>
<path d="M440.9 180.8L444.6 184.5L440.9 188.2L437.2 184.5Z" fill="#008080"/>
<path d="M445.1 183.1L448.8 186.8L445.1 190.5L441.4 186.8Z" fill="#008080"/>
<path d="M449.4 184.0L453.1 187.7L449.4 191.4L445.7 187.7Z" fill="#008080"/>
<path d="M453.7 183.5L457.4 187.2L453.7 190.9L450.0 187.2Z" fill="#008080"/>
<path d="M457.9 189.1L461.6 192.8L457.9 196.5L454.2 192.8Z" fill="#008080"/>
<path d="M462.2 169.0L465.9 172.7L462.2 176.4L458.5 172.7Z" fill="#008080"/>
<path d="M466.4 189.1L470.1 192.8L466.4 196.5L462.7 192.8Z" fill="#008080"/>
<path d="M470.7 181.5L474.4 185.2L470.7 188.9L467.0 185.2Z" fill="#008080"/>
<path d="M474.9 170.5L478.6 174.2L474.9 177.9L471.2 174.2Z" fill="#008080"/>
<path d="M479.2 161.1L482.9 164.8L479.2 168.5L475.5 164.8Z" fill="#008080"/>
<path d="M483.5 169.0L487.2 172.7L483.5 176.4L479.8 172.7Z" fill="#008080"/>
<path d="M487.7 167.9L491.4 171.6L487.7 175.3L484.0 171.6Z" fill="#008080"/>
<path d="M492.0 21.5L495.7 25.2L492.0 28.9L488.3 25.2Z" fill="#008080"/>
<path d="M496.2 169.4L499.9 173.1L496.2 176.8L492.5 173.1Z" fill="#008080"/>
<path d="M500.5 191.4L504.2 195.1L500.5 198.8L496.8 195.1Z" fill="#008080"/>
<path d="M504.7 172.0L508.4 175.7L504.7 179.4L501.0 175.7Z" fill="#008080"/>
<path d="M509.0 174.7L512.7 178.4L509.0 182.1L505.3 178.4Z" fill="#008080"/>
<path d="M513.2 176.5L516.9 180.2L513.2 183.9L509.5 180.2Z" fill="#008080"/>
</g>
<rect x="71.3" y="10.0" width="462.7" height="344.75" fill="none" stroke="#222" stroke-width="1.35"/>
<g stroke="#1a1a1a" stroke-width="1.1">
<line x1="91.6" y1="354.75" x2="91.6" y2="359.95"/>
<line x1="176.7" y1="354.75" x2="176.7" y2="359.95"/>
<line x1="261.8" y1="354.75" x2="261.8" y2="359.95"/>
<line x1="347.0" y1="354.75" x2="347.0" y2="359.95"/>
<line x1="432.1" y1="354.75" x2="432.1" y2="359.95"/>
<line x1="517.2" y1="354.75" x2="517.2" y2="359.95"/>
<line x1="66.1" y1="319.3" x2="71.3" y2="319.3"/>
<line x1="66.1" y1="281.4" x2="71.3" y2="281.4"/>
<line x1="66.1" y1="243.4" x2="71.3" y2="243.4"/>
<line x1="66.1" y1="205.5" x2="71.3" y2="205.5"/>
<line x1="66.1" y1="167.6" x2="71.3" y2="167.6"/>
<line x1="66.1" y1="129.7" x2="71.3" y2="129.7"/>
<line x1="66.1" y1="91.7" x2="71.3" y2="91.7"/>
<line x1="66.1" y1="53.8" x2="71.3" y2="53.8"/>
</g>
<text x="91.6" y="378" text-anchor="middle">0</text>
<text x="176.7" y="378" text-anchor="middle">1000</text>
<text x="261.8" y="378" text-anchor="middle">2000</text>
<text x="347.0" y="378" text-anchor="middle">3000</text>
<text x="432.1" y="378" text-anchor="middle">4000</text>
<text x="517.2" y="378" text-anchor="middle">5000</text>
<text x="61.5" y="326.0" text-anchor="end">250</text>
<text x="61.5" y="288.1" text-anchor="end">300</text>
<text x="61.5" y="250.1" text-anchor="end">350</text>
<text x="61.5" y="212.2" text-anchor="end">400</text>
<text x="61.5" y="174.3" text-anchor="end">450</text>
<text x="61.5" y="136.4" text-anchor="end">500</text>
<text x="61.5" y="98.4" text-anchor="end">550</text>
<text x="61.5" y="60.5" text-anchor="end">600</text>
<text x="302.5" y="400.6" text-anchor="middle">Iterations</text>
<text transform="translate(23.9 183.6) rotate(-90)" text-anchor="middle">SE</text>
<rect x="400" y="229.3" width="125.10000000000002" height="115.30000000000001" rx="3" ry="3" fill="#fff" fill-opacity="0.8" stroke="#cccccc" stroke-opacity="0.8" stroke-width="1"/>
<line x1="406.3" y1="244.3" x2="447.3" y2="244.3" stroke="#ff0000" stroke-width="2.0"/><rect x="424.3" y="241.8" width="5.0" height="5.0" fill="#ff0000"/>
<line x1="407.1" y1="271.9" x2="447.8" y2="271.9" stroke="#000000" stroke-width="1.9" stroke-dasharray="12.4 3.1 1.9 3.1"/><path d="M427.0 269.4L428.6 271.9L427.0 274.4L425.4 271.9Z" fill="#000000"/>
<line x1="407.1" y1="298.9" x2="447.8" y2="298.9" stroke="#ffd700" stroke-width="1.9" stroke-dasharray="7.1 3.1"/><path d="M430.0 298.9L424.0 295.9L424.0 301.9Z" fill="#ffd700"/>
<line x1="407.1" y1="326" x2="447.8" y2="326" stroke="#008080" stroke-width="1.9" stroke-dasharray="1.9 3.2"/><path d="M427.0 322.3L430.7 326.0L427.0 329.7L423.3 326.0Z" fill="#008080"/>
<text x="462.5" y="250.9">b=0.1</text>
<text x="462.5" y="278.5">b=0.2</text>
<text x="462.5" y="305.5">b=0.4</text>
<text x="462.5" y="332.6">b=0.09</text>
</svg>
</body></html>
